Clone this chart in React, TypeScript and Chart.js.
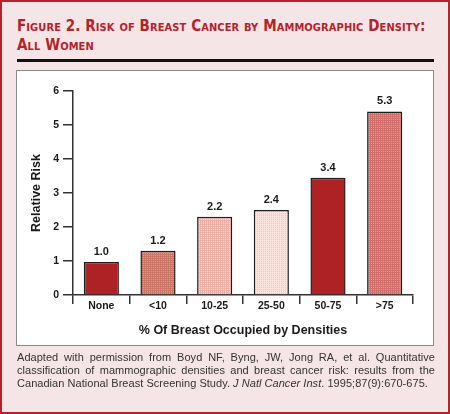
import React, { useEffect, useRef } from "react";
import { Chart, registerables } from "chart.js";

Chart.register(...registerables);

const categories = ["None", "<10", "10-25", "25-50", "50-75", ">75"];
const relativeRisk = [0.97, 1.3, 2.3, 2.5, 3.45, 5.4];
const valueLabels = ["1.0", "1.2", "2.2", "2.4", "3.4", "5.3"];
const barBaseColors = ["#ae2226", "#ca7566", "#efb0a6", "#f9e2dc", "#ae2226", "#d16e69"];
const barDotColors = ["#ae2226", "#e29a8c", "#f8d6c8", "#f1c6be", "#ae2226", "#e8968f"];
const yMin = 0;
const yMax = 6;
const yStep = 1;

const titleLine1 = "Figure 2. Risk of Breast Cancer by Mammographic Density:";
const titleLine2 = "All Women";
const yTitle = "Relative Risk";
const xTitle = "% Of Breast Occupied by Densities";

function makePattern(base: string, dot: string): CanvasPattern | string {
  if (base === dot) return base;
  const c = document.createElement("canvas");
  c.width = 2;
  c.height = 2;
  const g = c.getContext("2d");
  if (!g) return base;
  g.fillStyle = base;
  g.fillRect(0, 0, 2, 2);
  g.fillStyle = dot;
  g.fillRect(0, 0, 1, 1);
  const p = g.createPattern(c, "repeat");
  return p || base;
}

const valueLabelPlugin = {
  id: "valueLabels",
  afterDatasetsDraw(chart: any) {
    const ctx = chart.ctx;
    const meta = chart.getDatasetMeta(0);
    ctx.save();
    ctx.font = "bold 11px 'Liberation Sans', Arial, sans-serif";
    ctx.fillStyle = "#1a1a1a";
    ctx.textAlign = "center";
    ctx.textBaseline = "alphabetic";
    meta.data.forEach((bar: any, i: number) => {
      ctx.fillText(valueLabels[i], bar.x, bar.y - 7);
    });
    ctx.restore();
  },
};

function RiskChart() {
  const ref = useRef<HTMLCanvasElement | null>(null);
  useEffect(() => {
    if (!ref.current) return;
    const fills = barBaseColors.map((b, i) => makePattern(b, barDotColors[i]));
    const chart = new Chart(ref.current, {
      type: "bar",
      data: {
        labels: categories,
        datasets: [
          {
            data: relativeRisk,
            backgroundColor: fills as any,
            borderColor: "#1c1c1c",
            borderWidth: 1.5,
            barPercentage: 0.62,
            categoryPercentage: 1,
          },
        ],
      },
      options: {
        animation: false,
        responsive: false,
        devicePixelRatio: 1,
        layout: { padding: { top: 20, right: 20, left: 0, bottom: 0 } },
        plugins: { legend: { display: false }, tooltip: { enabled: false } },
        scales: {
          x: {
            afterFit: (s: any) => {
              s.height = 50;
            },
            grid: {
              display: true,
              drawOnChartArea: false,
              drawTicks: true,
              tickLength: 9,
              color: "#333",
              lineWidth: 1.5,
            },
            border: { display: true, color: "#333", width: 1.5 },
            ticks: {
              color: "#1a1a1a",
              padding: -4,
              font: { family: "'Liberation Sans', Arial, sans-serif", size: 10.5, weight: "bold" },
            },
            title: {
              display: true,
              text: xTitle,
              color: "#1a1a1a",
              padding: { top: 0, bottom: 7 },
              font: { family: "'Liberation Sans', Arial, sans-serif", size: 12.5, weight: "bold" },
            },
          },
          y: {
            min: yMin,
            max: yMax,
            afterFit: (s: any) => {
              s.width = 56;
            },
            grid: {
              display: true,
              drawOnChartArea: false,
              drawTicks: true,
              tickLength: 10,
              color: "#333",
              lineWidth: 1.5,
            },
            border: { display: true, color: "#333", width: 1.5 },
            ticks: {
              stepSize: yStep,
              color: "#1a1a1a",
              padding: 4,
              font: { family: "'Liberation Sans', Arial, sans-serif", size: 10.5, weight: "bold" },
            },
            title: {
              display: true,
              text: yTitle,
              color: "#1a1a1a",
              padding: { top: 12, bottom: 0 },
              font: { family: "'Liberation Sans', Arial, sans-serif", size: 12.5, weight: "bold" },
            },
          },
        },
      },
      plugins: [valueLabelPlugin],
    });
    return () => chart.destroy();
  }, []);
  return <canvas ref={ref} width={416} height={274} style={{ display: "block" }} />;
}

export default function App() {
  useEffect(() => {
    document.body.style.margin = "0";
  }, []);
  const cap: React.CSSProperties = {
    height: 13,
    lineHeight: "13px",
    whiteSpace: "nowrap",
  };
  const justified: React.CSSProperties = {
    ...cap,
    textAlign: "justify",
    textAlignLast: "justify" as any,
  };
  return (
    <div
      style={{
        position: "absolute",
        left: 0,
        top: 0,
        width: 450,
        height: 414,
        boxSizing: "border-box",
        border: "2px solid #b3252b",
        background: "#f6e5e6",
        fontFamily: "'Liberation Sans', Arial, sans-serif",
      }}
    >
      <div
        style={{
          position: "absolute",
          left: 15,
          top: 15,
          color: "#b3232b",
          fontFamily: "'DejaVu Sans Condensed', 'DejaVu Sans', sans-serif",
          fontWeight: "bold",
          fontSize: 15,
          lineHeight: "19px",
          letterSpacing: "0.1px",
          fontVariant: "small-caps",
          whiteSpace: "nowrap",
        }}
      >
        <div>{titleLine1}</div>
        <div>{titleLine2}</div>
      </div>
      <div
        style={{
          position: "absolute",
          left: 15,
          top: 57,
          width: 417,
          height: 3,
          background: "#111",
        }}
      />
      <div
        style={{
          position: "absolute",
          left: 15,
          top: 69,
          width: 416,
          height: 274,
          background: "#fff",
          outline: "1px solid #8a8a8a",
          boxShadow: "1px 1px 0 #a8a8a8",
        }}
      >
        <RiskChart />
      </div>
      <div
        style={{
          position: "absolute",
          left: 15,
          top: 349,
          width: 418,
          fontSize: 11,
          letterSpacing: "0.04px",
          color: "#333",
        }}
      >
        <div style={justified}>
          Adapted with permission from Boyd NF, Byng, JW, Jong RA, et al. Quantitative
        </div>
        <div style={justified}>
          classification of mammographic densities and breast cancer risk: results from the
        </div>
        <div style={cap}>
          Canadian National Breast Screening Study. <i>J Natl Cancer Inst</i>. 1995;87(9):670-675.
        </div>
      </div>
    </div>
  );
}
